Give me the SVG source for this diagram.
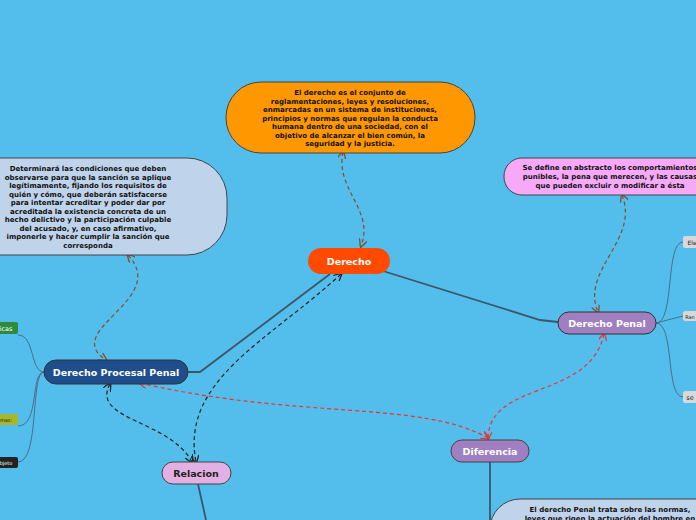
<svg xmlns="http://www.w3.org/2000/svg" width="696" height="520" viewBox="0 0 696 520">
<defs>
<style>
text{font-family:"DejaVu Sans",sans-serif;font-weight:bold;text-anchor:middle}
.s{font-size:7px;fill:#111}
.n{font-size:9.5px;fill:#fff}
.l{fill:none;stroke:#3e5566;stroke-width:1.8}
.t{fill:none;stroke:#4a6f8a;stroke-width:1}
.d{fill:none;stroke-width:1.2;stroke-dasharray:4 3}
</style>
<marker id="ab" viewBox="0 0 10 10" refX="8" refY="5" markerWidth="7" markerHeight="7" orient="auto-start-reverse"><path d="M0,0L10,5L0,10" fill="none" stroke="#8a4a2a" stroke-width="1.5"/></marker>
<marker id="ak" viewBox="0 0 10 10" refX="8" refY="5" markerWidth="7" markerHeight="7" orient="auto-start-reverse"><path d="M0,0L10,5L0,10" fill="none" stroke="#222" stroke-width="1.5"/></marker>
<marker id="ar" viewBox="0 0 10 10" refX="8" refY="5" markerWidth="7" markerHeight="7" orient="auto-start-reverse"><path d="M0,0L10,5L0,10" fill="none" stroke="#e33" stroke-width="1.5"/></marker>
</defs>
<rect width="696" height="520" fill="#53bdeb"/>
<g id="connectors">
<path class="l" d="M330,274 L200,372 L188,372"/>
<path class="l" d="M383,271 L540,320 L558,322"/>
<path class="l" d="M198,484 L206,520"/>
<path class="l" d="M490,462 L490,520"/>
<path class="t" d="M44,372 C30,372 35,335 18,335"/>
<path class="t" d="M44,372 C30,372 40,426 18,426"/>
<path class="t" d="M44,372 C30,372 40,462 18,462"/>
<path class="t" d="M656,323 C675,323 665,242 683,242"/>
<path class="t" d="M656,323 L683,316"/>
<path class="t" d="M656,323 C675,323 665,397 683,397"/>
<path class="d" stroke="#8a4a2a" marker-start="url(#ab)" marker-end="url(#ab)" d="M343,152 C335,190 375,210 361,246"/>
<path class="d" stroke="#8a4a2a" marker-start="url(#ab)" marker-end="url(#ab)" d="M128,255 C170,300 60,330 106,360"/>
<path class="d" stroke="#8a4a2a" marker-start="url(#ab)" marker-end="url(#ab)" d="M622,195 C640,240 580,270 598,312"/>
<path class="d" stroke="#222" marker-start="url(#ak)" marker-end="url(#ak)" d="M341,274 C270,340 180,380 196,462"/>
<path class="d" stroke="#222" marker-start="url(#ak)" marker-end="url(#ak)" d="M110,384 C90,420 170,420 192,462"/>
<path class="d" stroke="#e33" marker-start="url(#ar)" marker-end="url(#ar)" d="M140,383 C300,420 420,400 488,438"/>
<path class="d" stroke="#e33" marker-start="url(#ar)" marker-end="url(#ar)" d="M604,334 C590,400 490,380 488,438"/>
</g>
<g id="def1"><rect x="226" y="82" width="249" height="71" rx="35" fill="#ff9800" stroke="#444"/>
<text class="s" x="350" y="95">El derecho es el conjunto de</text><text class="s" x="350" y="103.5">reglamentaciones, leyes y resoluciones,</text><text class="s" x="350" y="112">enmarcadas en un sistema de instituciones,</text><text class="s" x="350" y="120.5">principios y normas que regulan la conducta</text><text class="s" x="350" y="129">humana dentro de una sociedad, con el</text><text class="s" x="350" y="137.5">objetivo de alcanzar el bien común, la</text><text class="s" x="350" y="146">seguridad y la justicia.</text></g>
<g id="def2"><rect x="-40" y="158" width="267" height="97" rx="40" fill="#bfd3ea" stroke="#444"/>
<text class="s" x="88" y="171">Determinará las condiciones que deben</text><text class="s" x="88" y="179.5">observarse para que la sanción se aplique</text><text class="s" x="88" y="188">legítimamente, fijando los requisitos de</text><text class="s" x="88" y="196.5">quién y cómo, que deberán satisfacerse</text><text class="s" x="88" y="205">para intentar acreditar y poder dar por</text><text class="s" x="88" y="213.5">acreditada la existencia concreta de un</text><text class="s" x="88" y="222">hecho delictivo y la participación culpable</text><text class="s" x="88" y="230.5">del acusado, y, en caso afirmativo,</text><text class="s" x="88" y="239">imponerle y hacer cumplir la sanción que</text><text class="s" x="88" y="247.5">corresponda</text></g>
<g id="def3"><rect x="504" y="158" width="230" height="37" rx="18" fill="#f5a9f7" stroke="#444"/>
<text class="s" x="610" y="170" fill="#4a1a60">Se define en abstracto los comportamientos</text><text class="s" x="610" y="179">punibles, la pena que merecen, y las causas</text><text class="s" x="610" y="188">que pueden excluir o modificar a ésta</text></g>
<g id="def4"><rect x="490" y="499" width="260" height="60" rx="30" fill="#bfd3ea" stroke="#444"/>
<text class="s" x="610" y="512">El derecho Penal trata sobre las normas,</text><text class="s" x="610" y="521">leyes que rigen la actuación del hombre en</text></g>
<g id="derecho"><rect x="308" y="248" width="82" height="26" rx="13" fill="#ff4a00"/><text class="n" x="349" y="265">Derecho</text></g>
<g id="dpp"><rect x="44" y="360" width="144" height="24" rx="12" fill="#1f4e8c" stroke="#333"/><text class="n" x="116" y="375.5">Derecho Procesal Penal</text></g>
<g id="dp"><rect x="558" y="312" width="98" height="22" rx="11" fill="#a07fc0" stroke="#333"/><text class="n" x="607" y="327">Derecho Penal</text></g>
<g id="relacion"><rect x="162" y="462" width="69" height="22" rx="11" fill="#e2b0e3" stroke="#444"/><text class="n" x="196" y="477" fill="#222" style="fill:#222">Relacion</text></g>
<g id="diferencia"><rect x="451" y="440" width="78" height="22" rx="11" fill="#a07fc0" stroke="#444"/><text class="n" x="490" y="455">Diferencia</text></g>
<g id="l1"><rect x="-10" y="322" width="28" height="12" rx="2" fill="#2e8b3e"/><text x="6" y="331" style="font-size:6.5px;fill:#fff;font-weight:normal">icas</text></g>
<g id="l2"><rect x="-10" y="414" width="28" height="11" rx="2" fill="#a8b82a"/><text x="6" y="422" style="font-size:5px;fill:#222;font-weight:normal">mas:</text></g>
<g id="l3"><rect x="-10" y="457" width="28" height="11" rx="2" fill="#222"/><text x="6" y="465" style="font-size:5px;fill:#fff;font-weight:normal">bjeto</text></g>
<g id="r1"><rect x="683" y="236" width="20" height="12" rx="2" fill="#d8d8d8"/><text x="692" y="245" style="font-size:6px;fill:#222;font-weight:normal">Ele</text></g>
<g id="r2"><rect x="683" y="311" width="20" height="10" rx="2" fill="#d8d8d8"/><text x="690" y="318.5" style="font-size:5px;fill:#222;font-weight:normal">Ran</text></g>
<g id="r3"><rect x="683" y="391" width="20" height="12" rx="2" fill="#d8d8d8"/><text x="690" y="400" style="font-size:6.5px;fill:#222;font-weight:normal">se</text></g>
</svg>
